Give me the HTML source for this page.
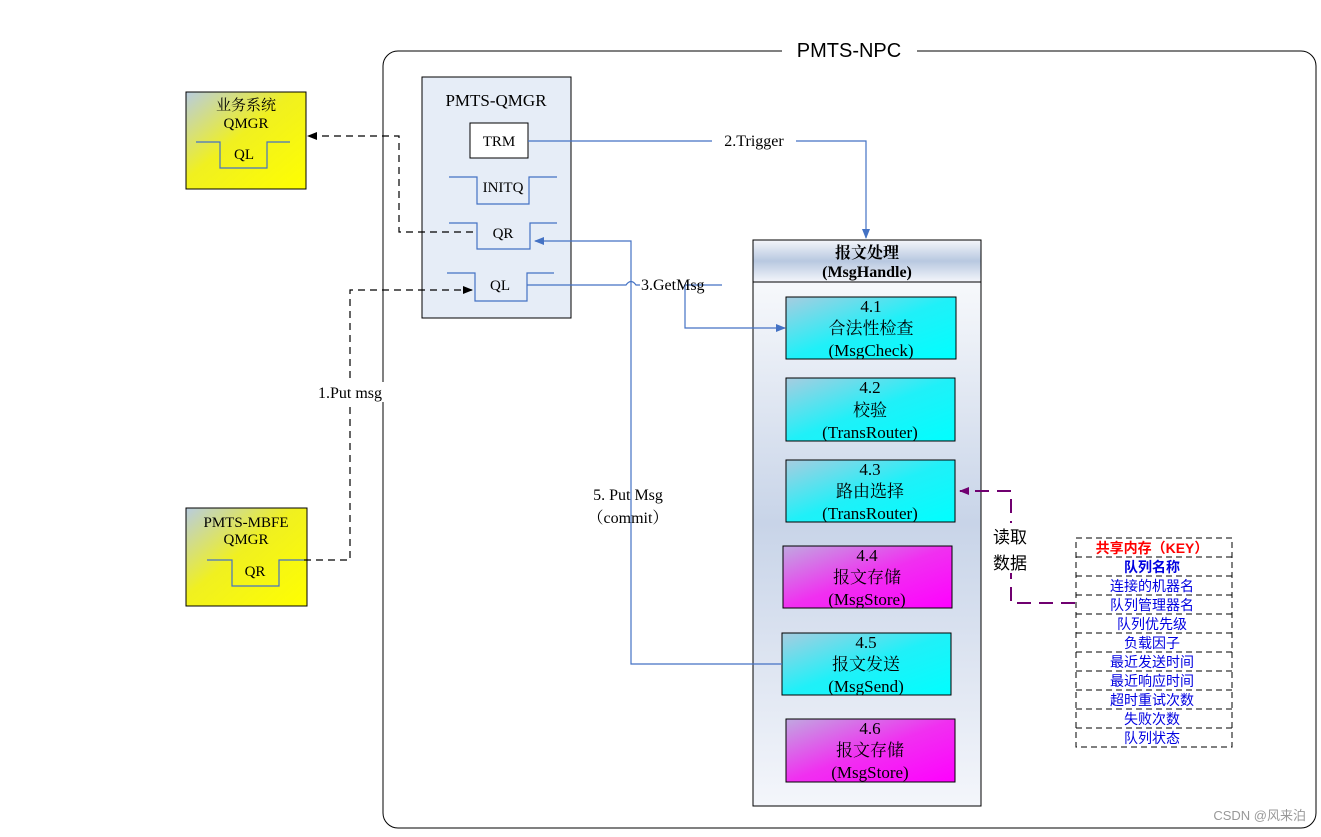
<!DOCTYPE html>
<html><head><meta charset="utf-8"><style>
body{margin:0;background:#fff;width:1321px;height:832px;overflow:hidden}
svg text{font-family:"Liberation Serif","Noto Serif CJK SC",serif}
</style></head><body>
<svg width="1321" height="832" viewBox="0 0 1321 832" xmlns="http://www.w3.org/2000/svg">
<defs>
<linearGradient id="yel" x1="0" y1="0" x2="1" y2="1"><stop offset="0" stop-color="#b8cce0"/><stop offset="0.45" stop-color="#f0f020"/><stop offset="1" stop-color="#ffff00"/></linearGradient>
<linearGradient id="cy" x1="0" y1="0" x2="1" y2="1"><stop offset="0" stop-color="#a8cce0"/><stop offset="0.5" stop-color="#20f0f8"/><stop offset="1" stop-color="#00ffff"/></linearGradient>
<linearGradient id="mg" x1="0" y1="0" x2="1" y2="1"><stop offset="0" stop-color="#c0a8e0"/><stop offset="0.5" stop-color="#f030f0"/><stop offset="1" stop-color="#ff00ff"/></linearGradient>
<linearGradient id="hd" x1="0" y1="0" x2="0" y2="1"><stop offset="0" stop-color="#f4f6fb"/><stop offset="0.5" stop-color="#b8c8e0"/><stop offset="1" stop-color="#f4f6fb"/></linearGradient>
<linearGradient id="bd" x1="0" y1="0" x2="0" y2="1"><stop offset="0" stop-color="#ffffff"/><stop offset="0.5" stop-color="#c8d4e8"/><stop offset="1" stop-color="#f4f6fb"/></linearGradient>
<marker id="ab" markerWidth="10" markerHeight="8" refX="9" refY="4" orient="auto" markerUnits="userSpaceOnUse"><path d="M0,0 L10,4 L0,8z" fill="#4472c4"/></marker>
<marker id="ak" markerWidth="10" markerHeight="8" refX="9" refY="4" orient="auto" markerUnits="userSpaceOnUse"><path d="M0,0 L10,4 L0,8z" fill="#000"/></marker>
<marker id="ap" markerWidth="10" markerHeight="8" refX="9" refY="4" orient="auto" markerUnits="userSpaceOnUse"><path d="M0,0 L10,4 L0,8z" fill="#700070"/></marker>
</defs>
<rect x="383" y="51" width="933" height="777" rx="15" fill="none" stroke="#000" stroke-width="1"/>
<rect x="782" y="40" width="135" height="20" fill="#fff"/>
<text x="849" y="57" font-size="20" text-anchor="middle" style="font-family:'Liberation Sans',sans-serif">PMTS-NPC</text>

<!-- QMGR -->
<rect x="422" y="77" width="149" height="241" fill="#e6edf7" stroke="#000"/>
<text x="496" y="106" font-size="17" text-anchor="middle">PMTS-QMGR</text>
<rect x="470" y="123" width="58" height="35" fill="#fff" stroke="#000"/>
<text x="499" y="146" font-size="15" text-anchor="middle">TRM</text>

<!-- yellow boxes -->
<rect x="186" y="92" width="120" height="97" fill="url(#yel)" stroke="#000"/>
<text x="246" y="110" font-size="15" text-anchor="middle">业务系统</text>
<text x="246" y="128" font-size="15" text-anchor="middle">QMGR</text>
<text x="244" y="159" font-size="15" text-anchor="middle">QL</text>
<rect x="186" y="508" width="121" height="98" fill="url(#yel)" stroke="#000"/>
<text x="246" y="527" font-size="15" text-anchor="middle">PMTS-MBFE</text>
<text x="246" y="544" font-size="15" text-anchor="middle">QMGR</text>
<text x="255" y="576" font-size="15" text-anchor="middle">QR</text>

<g fill="none" stroke="#4472c4" stroke-width="1.2">
<path d="M449,177 H477 V204 H529 V177 H557"/>
<path d="M449,223 H477 V249 H530 V223 H557"/>
<path d="M447,273 H475 V301 H527 V273 H554"/>
<path d="M196,142 H220 V168 H267 V142 H290"/>
<path d="M207,560 H232 V586 H279 V560 H304"/>
</g>
<text x="503" y="192" font-size="15" text-anchor="middle">INITQ</text>
<text x="503" y="238" font-size="15" text-anchor="middle">QR</text>
<text x="500" y="290" font-size="15" text-anchor="middle">QL</text>

<!-- black dashed -->
<g fill="none" stroke="#000" stroke-width="1.2" stroke-dasharray="7,5">
<path d="M473,232 H399 V136 H308" marker-end="url(#ak)"/>
<path d="M304,560 H350 V290 H472" marker-end="url(#ak)"/>
</g>
<rect x="306" y="382" width="88" height="20" fill="#fff"/>
<text x="350" y="398" font-size="16" text-anchor="middle">1.Put msg</text>

<!-- MsgHandle -->
<rect x="753" y="240" width="228" height="566" fill="url(#bd)" stroke="#000"/>
<rect x="753" y="240" width="228" height="42" fill="url(#hd)" stroke="#000"/>
<text x="867" y="258" font-size="16" font-weight="bold" text-anchor="middle">报文处理</text>
<text x="867" y="277" font-size="16" font-weight="bold" text-anchor="middle">(MsgHandle)</text>
<g stroke="#000">
<rect x="786" y="297" width="170" height="62" fill="url(#cy)"/>
<rect x="786" y="378" width="169" height="63" fill="url(#cy)"/>
<rect x="786" y="460" width="169" height="62" fill="url(#cy)"/>
<rect x="783" y="546" width="169" height="62" fill="url(#mg)"/>
<rect x="782" y="633" width="169" height="62" fill="url(#cy)"/>
<rect x="786" y="719" width="169" height="63" fill="url(#mg)"/>
</g>
<g font-size="17" text-anchor="middle">
<text x="871" y="312">4.1</text><text x="871" y="334">合法性检查</text><text x="871" y="356">(MsgCheck)</text>
<text x="870" y="393">4.2</text><text x="870" y="416">校验</text><text x="870" y="438">(TransRouter)</text>
<text x="870" y="475">4.3</text><text x="870" y="497">路由选择</text><text x="870" y="519">(TransRouter)</text>
<text x="867" y="561">4.4</text><text x="867" y="583">报文存储</text><text x="867" y="605">(MsgStore)</text>
<text x="866" y="648">4.5</text><text x="866" y="670">报文发送</text><text x="866" y="692">(MsgSend)</text>
<text x="870" y="734">4.6</text><text x="870" y="756">报文存储</text><text x="870" y="778">(MsgStore)</text>
</g>

<!-- blue -->
<g fill="none" stroke="#4472c4" stroke-width="1.2">
<path d="M528,141 H866 V238" marker-end="url(#ab)"/>
<path d="M527,285 H626 Q631,278 636,285 H640"/>
<path d="M722,285 H685 V328 H785" marker-end="url(#ab)"/>
<path d="M782,664 H631 V241 H535" marker-end="url(#ab)"/>
</g>
<rect x="712" y="131" width="84" height="20" fill="#fff"/>
<text x="754" y="146" font-size="16" text-anchor="middle">2.Trigger</text>
<text x="641" y="290" font-size="16">3.GetMsg</text>
<text x="628" y="500" font-size="16" text-anchor="middle">5. Put Msg</text>
<text x="628" y="523" font-size="16" text-anchor="middle">（commit）</text>

<!-- purple -->
<path d="M1075,603 H1011 V491 H960" fill="none" stroke="#700070" stroke-width="2" stroke-dasharray="14,8" marker-end="url(#ap)"/>
<rect x="990" y="523" width="44" height="50" fill="#fff"/>
<text x="1010" y="543" font-size="17" text-anchor="middle" style="font-family:'Liberation Sans','Noto Sans CJK SC',sans-serif">读取</text>
<text x="1010" y="569" font-size="17" text-anchor="middle" style="font-family:'Liberation Sans','Noto Sans CJK SC',sans-serif">数据</text>

<!-- table -->
<g fill="none" stroke="#000" stroke-dasharray="6,4">
<rect x="1076" y="538" width="156" height="209"/>
<path d="M1076,557H1232M1076,576H1232M1076,595H1232M1076,614H1232M1076,633H1232M1076,652H1232M1076,671H1232M1076,690H1232M1076,709H1232M1076,728H1232"/>
</g>
<g font-size="14" text-anchor="middle" fill="#0000e0" style="font-family:'Liberation Sans','Noto Sans CJK SC',sans-serif">
<text x="1152" y="553" fill="#ff0000" font-weight="bold" style="font-family:'Liberation Sans','Noto Sans CJK SC',sans-serif">共享内存（KEY）</text>
<text x="1152" y="572" font-weight="bold" style="font-family:'Liberation Sans','Noto Sans CJK SC',sans-serif">队列名称</text>
<text x="1152" y="591" style="font-family:'Liberation Sans','Noto Sans CJK SC',sans-serif">连接的机器名</text>
<text x="1152" y="610" style="font-family:'Liberation Sans','Noto Sans CJK SC',sans-serif">队列管理器名</text>
<text x="1152" y="629" style="font-family:'Liberation Sans','Noto Sans CJK SC',sans-serif">队列优先级</text>
<text x="1152" y="648" style="font-family:'Liberation Sans','Noto Sans CJK SC',sans-serif">负载因子</text>
<text x="1152" y="667" style="font-family:'Liberation Sans','Noto Sans CJK SC',sans-serif">最近发送时间</text>
<text x="1152" y="686" style="font-family:'Liberation Sans','Noto Sans CJK SC',sans-serif">最近响应时间</text>
<text x="1152" y="705" style="font-family:'Liberation Sans','Noto Sans CJK SC',sans-serif">超时重试次数</text>
<text x="1152" y="724" style="font-family:'Liberation Sans','Noto Sans CJK SC',sans-serif">失败次数</text>
<text x="1152" y="743" style="font-family:'Liberation Sans','Noto Sans CJK SC',sans-serif">队列状态</text>
</g>
<text x="1306" y="820" font-size="13" fill="#999" text-anchor="end" style="font-family:'Liberation Sans','Noto Sans CJK SC',sans-serif">CSDN @风来泊</text>
</svg>
</body></html>
